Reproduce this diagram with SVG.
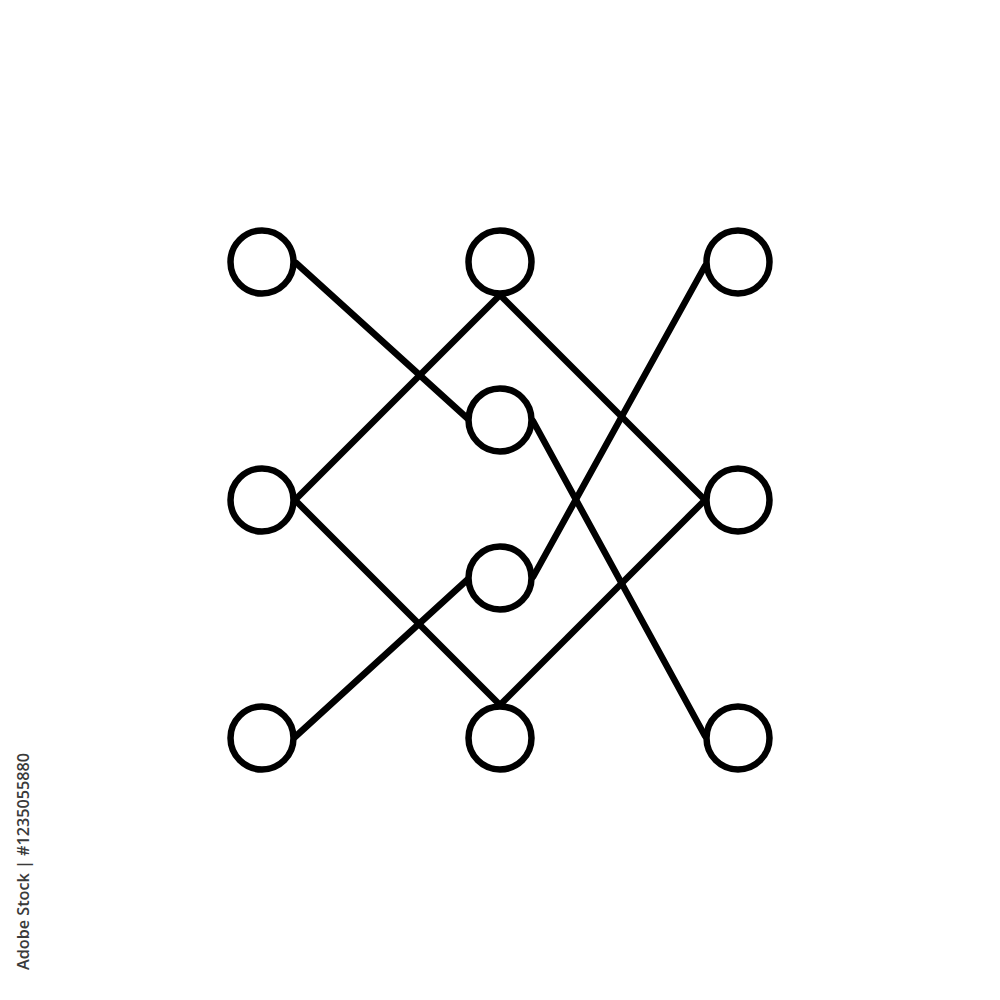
<svg xmlns="http://www.w3.org/2000/svg" width="1000" height="1000" viewBox="0 0 1000 1000">
<style>
.node{fill:#fff;stroke:#000;stroke-width:6.5}
.edge{stroke:#000;stroke-width:6.5;fill:none;stroke-linecap:round}
.wm{font-family:"Open Sans","Liberation Sans",sans-serif;font-size:17px;font-weight:600;fill:#3a3a3a}
</style>
<rect width="1000" height="1000" fill="#fff"/>
<g id="connectors">
<line class="edge" x1="296" y1="263" x2="467" y2="418"/>
<line class="edge" x1="500" y1="295" x2="295" y2="500"/>
<line class="edge" x1="500" y1="295" x2="705" y2="500"/>
<line class="edge" x1="295" y1="500" x2="500" y2="705"/>
<line class="edge" x1="705" y1="500" x2="500" y2="705"/>
<line class="edge" x1="705" y1="266" x2="533" y2="577"/>
<line class="edge" x1="533" y1="421" x2="705" y2="736"/>
<line class="edge" x1="467" y1="580" x2="295" y2="737"/>
</g>
<g id="n-tl"><circle class="node" cx="262" cy="262" r="31.5"/></g>
<g id="n-tm"><circle class="node" cx="500" cy="262" r="31.5"/></g>
<g id="n-tr"><circle class="node" cx="738" cy="262" r="31.5"/></g>
<g id="n-ml"><circle class="node" cx="262" cy="500" r="31.5"/></g>
<g id="n-mr"><circle class="node" cx="738" cy="500" r="31.5"/></g>
<g id="n-cu"><circle class="node" cx="500" cy="420" r="31.5"/></g>
<g id="n-cl"><circle class="node" cx="500" cy="578" r="31.5"/></g>
<g id="n-bl"><circle class="node" cx="262" cy="738" r="31.5"/></g>
<g id="n-bm"><circle class="node" cx="500" cy="738" r="31.5"/></g>
<g id="n-br"><circle class="node" cx="738" cy="738" r="31.5"/></g>
<text class="wm" transform="translate(29,970) rotate(-90)" textLength="217" lengthAdjust="spacingAndGlyphs">Adobe Stock | #1235055880</text>
</svg>
